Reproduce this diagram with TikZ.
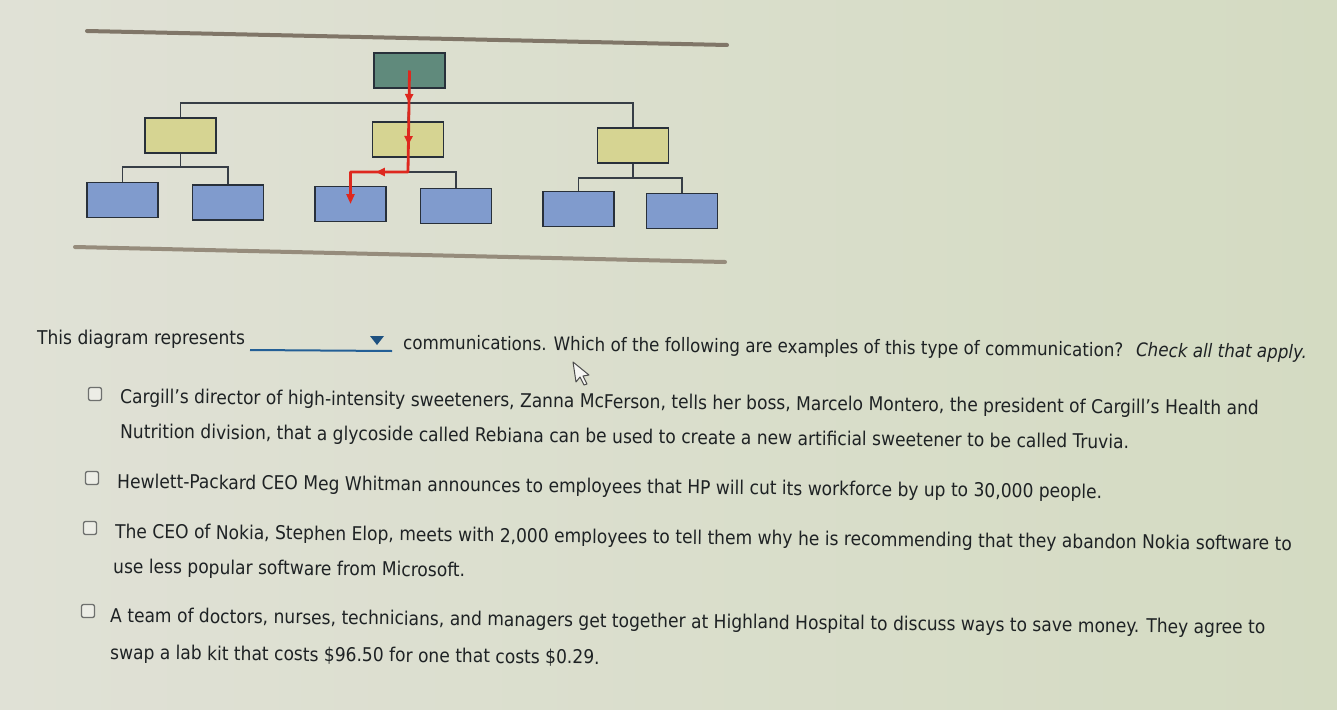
\documentclass[tikz,border=0pt]{standalone}
\usepackage{fontspec}
\setmainfont{DejaVu Sans Condensed}
\usetikzlibrary{arrows.meta,decorations.markings}
\definecolor{bgl}{RGB}{224,225,214}
\definecolor{bgr}{RGB}{212,219,194}
\definecolor{rulec}{RGB}{128,118,104}
\definecolor{rulecb}{RGB}{150,140,124}
\definecolor{ceoc}{RGB}{96,138,124}
\definecolor{midc}{RGB}{214,212,146}
\definecolor{lowc}{RGB}{128,155,205}
\definecolor{edgec}{RGB}{40,48,58}
\definecolor{linec}{RGB}{55,62,70}
\definecolor{redc}{RGB}{222,40,30}
\definecolor{txt}{RGB}{30,34,36}
\definecolor{ddblue}{RGB}{35,95,150}
\definecolor{cbox}{RGB}{110,112,110}
\begin{document}
\begin{tikzpicture}[x=1pt,y=-1pt,
  box/.style={draw=edgec, line width=1.6pt, minimum width=71pt, minimum height=35pt, inner sep=0pt},
  ceobox/.style={box, fill=ceoc},
  midbox/.style={box, fill=midc},
  lowbox/.style={box, fill=lowc},
  conn/.style={draw=linec, line width=1.5pt},
  rule/.style={line width=4pt, line cap=round},
  redtip/.style={-{Triangle[length=10pt,width=8pt]}},
  txtline/.style={anchor=base west, inner sep=0pt, text=txt, font=\fontsize{19}{23}\selectfont, rotate=-0.6},
  chk/.style={draw=cbox, line width=1.3pt, rounded corners=2pt, minimum size=13pt, inner sep=0pt, fill=white!40!bgl}
]
\useasboundingbox (0,0) rectangle (1337,709);
\shade[left color=bgl, right color=bgr] (0,0) rectangle (1337,709);

% rules
\coordinate (r1a) at (87,31); \coordinate (r1b) at (727,45);
\coordinate (r2a) at (75,247); \coordinate (r2b) at (725,262);
\draw[rule, draw=rulec] (r1a) -- (r1b);
\draw[rule, draw=rulecb] (r2a) -- (r2b);

% boxes
\node[ceobox] (ceo) at (409.5,70.5) {};
\node[midbox] (m1) at (180.5,135.5) {};
\node[midbox] (m2) at (408,139.5) {};
\node[midbox] (m3) at (633,145.5) {};
\node[lowbox] (b1) at (122.5,200) {};
\node[lowbox] (b2) at (228,202.5) {};
\node[lowbox] (b3) at (350.5,204) {};
\node[lowbox] (b4) at (456,206) {};
\node[lowbox] (b5) at (578.5,209) {};
\node[lowbox] (b6) at (682,211) {};

% junctions
\coordinate (j0) at (409,103);
\coordinate (j1) at (180.5,167);
\coordinate (j2) at (408,172);
\coordinate (j3) at (633,178);

\draw[conn] (m1.north) |- (j0) -| (m3.north);
\draw[conn] (ceo.south) -- (j0) -- (m2.north);
\draw[conn] (m1.south) -- (j1);
\draw[conn] (b1.north) |- (j1) -| (b2.north);
\draw[conn] (m2.south) -- (j2);
\draw[conn] (b3.north) |- (j2) -| (b4.north);
\draw[conn] (m3.south) -- (j3);
\draw[conn] (b5.north) |- (j3) -| (b6.north);

% red path
\draw[draw=redc, line width=2.8pt, line join=round,
  postaction={decorate},
  decoration={markings,
    mark=at position 0.17 with {\arrow[redc]{Triangle[length=9pt,width=8pt]}},
    mark=at position 0.39 with {\arrow[redc]{Triangle[length=9pt,width=8pt]}},
    mark=at position 0.70 with {\arrow[redc]{Triangle[length=9pt,width=8pt]}}},
  redtip] (ceo.center) -- (j2) -- (j2 -| b3.center) -- (b3.center);

% question
\node[txtline, rotate=0.6] (q1) at (37,344) {This diagram represents};
\coordinate (dda) at (250,350); \coordinate (ddb) at (392,351);
\draw[draw=ddblue, line width=2pt] (dda) -- (ddb);
\fill[ddblue!85!black] (370,336) -- (384,336) -- (377,345) -- cycle;
\node[txtline, font=\fontsize{18.6}{23}\selectfont] (q2) at (403,349) {communications. Which of the following are examples of this type of communication?\hspace{0.3em} \textit{Check all that apply.}};

% cursor
\draw[draw=black!70, fill=white!70!bgl, line width=1pt, line join=round]
  (573,362) -- (576,382) -- (580,377) -- (584,385) -- (587,384) -- (583,376) -- (589,375) -- cycle;

% options
\node[chk] (c1) at (95,394) {};
\node[txtline] (o1a) at (120,403) {Cargill’s director of high-intensity sweeteners, Zanna McFerson, tells her boss, Marcelo Montero, the president of Cargill’s Health and};
\node[txtline] (o1b) at (120,438) {Nutrition division, that a glycoside called Rebiana can be used to create a new artificial sweetener to be called Truvia.};

\node[chk] (c2) at (92,478) {};
\node[txtline] (o2) at (117,488) {Hewlett-Packard CEO Meg Whitman announces to employees that HP will cut its workforce by up to 30,000 people.};

\node[chk] (c3) at (90,528) {};
\node[txtline] (o3a) at (115,538) {The CEO of Nokia, Stephen Elop, meets with 2,000 employees to tell them why he is recommending that they abandon Nokia software to};
\node[txtline] (o3b) at (113,573) {use less popular software from Microsoft.};

\node[chk] (c4) at (88,611) {};
\node[txtline] (o4a) at (110,622) {A team of doctors, nurses, technicians, and managers get together at Highland Hospital to discuss ways to save money. They agree to};
\node[txtline] (o4b) at (110,659) {swap a lab kit that costs \$96.50 for one that costs \$0.29.};
\end{tikzpicture}
\end{document}
